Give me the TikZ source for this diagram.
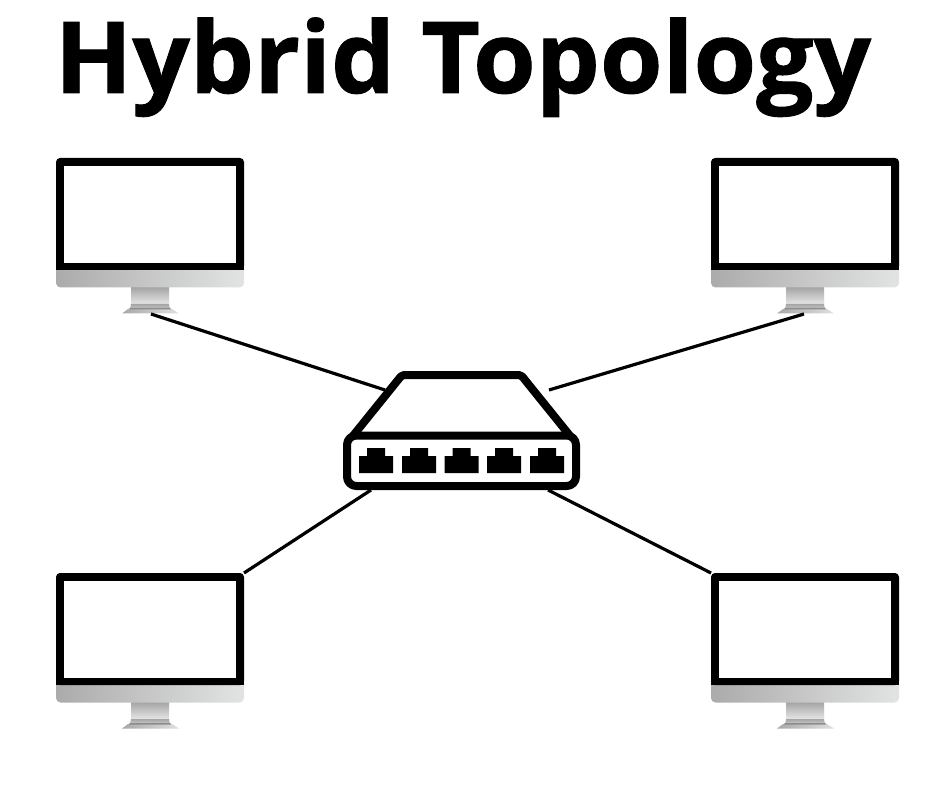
\documentclass[tikz,border=0pt]{standalone}
\usepackage{fontspec}
\setmainfont[BoldFeatures={FakeBold=0.9,FakeStretch=1.02}]{Open Sans}
\tikzset{
  wire/.style={draw=black,line width=2.4pt},
  chin/.style={left color=chinL,right color=chinR},
  neckfill/.style={top color=neckT,bottom color=neckB},
  footfill/.style={left color=footL,right color=footR},
  portshape/.style={fill=black},
  swline/.style={draw=black,line width=6pt,line join=round},
  title/.style={font=\fontsize{74.5pt}{80pt}\selectfont\bfseries,text=black,inner sep=0pt,anchor=base}
}
\definecolor{chinL}{HTML}{ABABAB}
\definecolor{chinR}{HTML}{E2E3E3}
\definecolor{neckT}{HTML}{A5A5A5}
\definecolor{neckB}{HTML}{E6E6E6}
\definecolor{footL}{HTML}{A8A8A8}
\definecolor{footR}{HTML}{E0E0E0}
% #1 = name, #2 = x, #3 = y
\newcommand{\monitor}[3]{%
  \begin{scope}[shift={(#2,#3)}]
    \shade[neckfill] (75,129.5) -- (113,129.5) -- (113,146) -- (75,146) -- cycle;
    \shade[neckfill] (75,146) -- (113,146) .. controls (113,150) and (115,152) .. (120,155) -- (68,155) .. controls (73,152) and (75,150) .. (75,146) -- cycle;
    \shade[footfill] (72,151) -- (116,151) -- (123,155.5) -- (66,155.5) -- cycle;
    \fill[black!45] (74,150) -- (114,150) -- (115,151.5) -- (73,151.5) -- cycle;
    \shade[chin,rounded corners=3.4pt] (0,105) -- (188,105) -- (188,129.5) -- (0,129.5) -- cycle;
    \fill[black,rounded corners=3pt] (0,112) -- (0,0) -- (188,0) -- (188,112) -- cycle;
    \fill[black] (0,106) rectangle (188,112);
    \fill[white] (8,8) rectangle (180,105);
    \node[inner sep=0pt,minimum size=0pt] (#1) at (94,60) {};
  \end{scope}
}
\newcommand{\rjport}[1]{%
  \fill[portshape] (#1,473) -- (#1,456) -- ({#1+8},456) -- ({#1+8},448) -- ({#1+26},448) -- ({#1+26},456) -- ({#1+34},456) -- ({#1+34},473) -- cycle;
}
\begin{document}
\begin{tikzpicture}[x=0.75pt,y=-0.75pt]
\useasboundingbox (0,0) rectangle (948,812);
\fill[white] (0,0) rectangle (948,812);
\node[title] (heading) at (463,93) {Hybrid Topology};

\monitor{tl}{56}{158}
\monitor{tr}{711}{158}
\monitor{bl}{56}{573}
\monitor{br}{711}{573}

% switch
\node[inner sep=0pt,minimum size=0pt] (sw) at (461,430) {};
\draw[swline,rounded corners=1.5pt] (402,375) -- (521,375) -- (571,437) -- (352,437) -- cycle;
\draw[swline,fill=white,rounded corners=7pt] (347,435.5) rectangle (576,486);
\rjport{359}
\rjport{402}
\rjport{444.5}
\rjport{487}
\rjport{530}

% connector ends
\coordinate (tlfoot) at ([xshift=0.75pt,yshift=-72pt]tl.center);
\coordinate (trfoot) at ([xshift=-0.75pt,yshift=-72pt]tr.center);
\coordinate (blcorner) at ([xshift=70.5pt,yshift=45pt]bl.center);
\coordinate (brcorner) at ([xshift=-70.5pt,yshift=45pt]br.center);
\coordinate (swtl) at ([xshift=-57pt,yshift=30pt]sw.center);
\coordinate (swtr) at ([xshift=66pt,yshift=30pt]sw.center);
\coordinate (swbl) at ([xshift=-67.5pt,yshift=-45pt]sw.center);
\coordinate (swbr) at ([xshift=65.25pt,yshift=-45pt]sw.center);
\draw[wire] (tlfoot) -- (swtl);
\draw[wire] (trfoot) -- (swtr);
\draw[wire] (blcorner) -- (swbl);
\draw[wire] (brcorner) -- (swbr);
\end{tikzpicture}
\end{document}
